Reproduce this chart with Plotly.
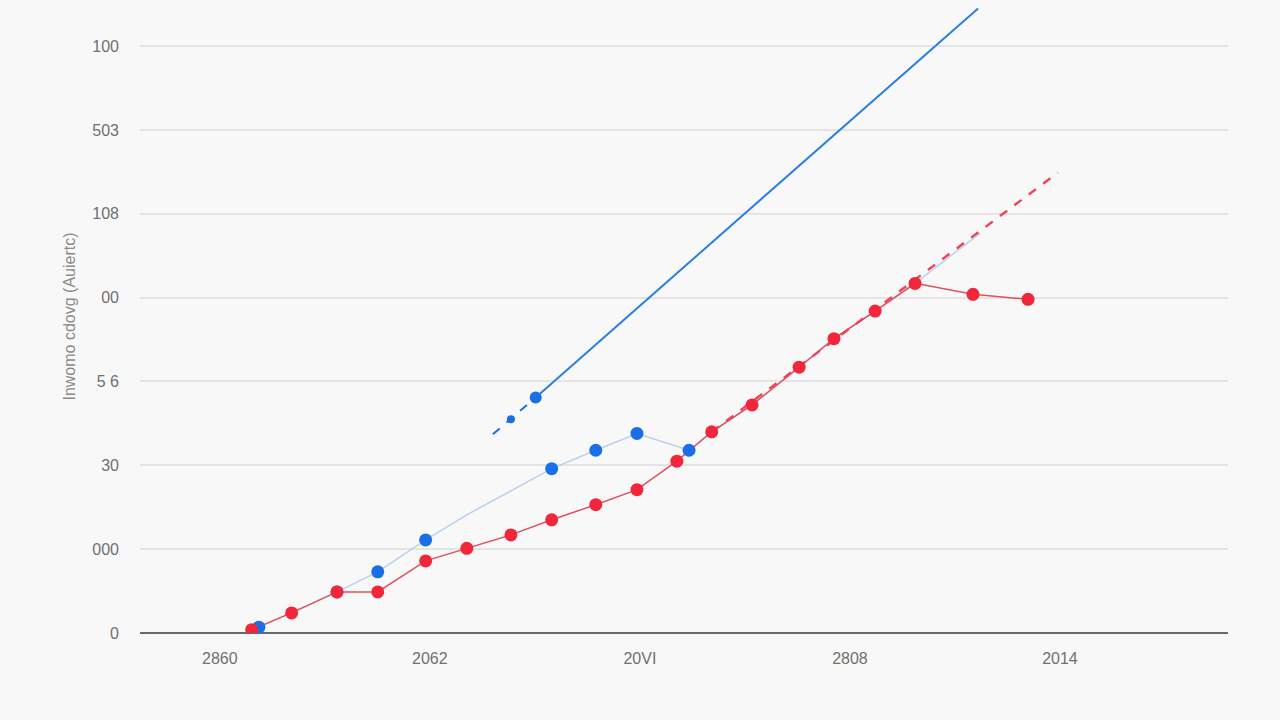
import plotly.graph_objects as go

# ---- data ----
x_tick_vals = [0, 5, 10, 15, 20]
x_tick_text = ["2860", "2062", "20VI", "2808", "2014"]
y_tick_vals = [0, 1, 2, 3, 4, 5, 6, 7]
y_tick_text = ["0", "000", "30", "5 6", "00", "108", "503", "100"]
y_title = "Inwomo cdovg (Auiertc)"

red_x = [0.76, 1.71, 2.79, 3.76, 4.90, 5.88, 6.93, 7.90, 8.95, 9.93, 10.88, 11.71,
         12.67, 13.79, 14.62, 15.60, 16.55, 17.93, 19.24]
red_y = [0.04, 0.24, 0.49, 0.49, 0.86, 1.01, 1.17, 1.35, 1.53, 1.71, 2.05, 2.40,
         2.72, 3.17, 3.51, 3.84, 4.17, 4.04, 3.98]

blue_x = [0.93, 2.79, 3.76, 4.90, 7.90, 8.95, 9.93, 11.17]
blue_y = [0.07, 0.49, 0.73, 1.11, 1.96, 2.18, 2.38, 2.18]

blue_path_x = [0.93, 2.79, 3.76, 4.90, 5.88, 7.90, 8.95, 9.93, 11.17, 11.71, 12.67,
               13.79, 14.62, 15.60, 16.55, 18.10]
blue_path_y = [0.07, 0.49, 0.73, 1.11, 1.41, 1.96, 2.18, 2.38, 2.18, 2.40, 2.72,
               3.17, 3.51, 3.84, 4.17, 4.77]

blue_trend_dash_x = [6.50, 7.52]
blue_trend_dash_y = [2.37, 2.81]
blue_trend_x = [7.52, 18.05]
blue_trend_y = [2.81, 7.45]
blue_trend_small_x = [6.93]
blue_trend_small_y = [2.55]
blue_trend_big_x = [7.52]
blue_trend_big_y = [2.81]

red_trend_x = [11.71, 19.95]
red_trend_y = [2.40, 5.49]

RED = "#f2263a"
BLUE = "#1a6fe8"

fig = go.Figure()

fig.add_trace(go.Scatter(x=blue_path_x, y=blue_path_y, mode="lines",
                         line=dict(color="#b9d0ee", width=1.5)))
fig.add_trace(go.Scatter(x=red_x, y=red_y, mode="lines",
                         line=dict(color="#e0505e", width=1.5)))
fig.add_trace(go.Scatter(x=red_trend_x, y=red_trend_y, mode="lines",
                         line=dict(color="#ee4458", width=2.4, dash="dash")))
fig.add_trace(go.Scatter(x=blue_trend_dash_x, y=blue_trend_dash_y, mode="lines",
                         line=dict(color=BLUE, width=2, dash="dash")))
fig.add_trace(go.Scatter(x=blue_trend_x, y=blue_trend_y, mode="lines",
                         line=dict(color="#2a7fe0", width=2)))
fig.add_trace(go.Scatter(x=blue_trend_small_x, y=blue_trend_small_y, mode="markers",
                         marker=dict(color=BLUE, size=8, opacity=1)))
fig.add_trace(go.Scatter(x=blue_trend_big_x, y=blue_trend_big_y, mode="markers",
                         marker=dict(color=BLUE, size=12, opacity=1)))
fig.add_trace(go.Scatter(x=blue_x, y=blue_y, mode="markers",
                         marker=dict(color=BLUE, size=13, opacity=1)))
fig.add_trace(go.Scatter(x=red_x, y=red_y, mode="markers",
                         marker=dict(color=RED, size=13, opacity=1)))

fig.update_layout(
    width=1280, height=720,
    paper_bgcolor="#f8f8f8", plot_bgcolor="#f8f8f8",
    margin=dict(l=140, r=52, t=0, b=87),
    showlegend=False, hovermode=False,
    font=dict(family="Liberation Sans, Arial, sans-serif", color="#777777", size=16),
)
fig.update_xaxes(range=[-1.9, 24.0], tickvals=x_tick_vals, ticktext=x_tick_text,
                 showgrid=False, zeroline=False, showline=False, ticks="",
                 ticklabelstandoff=14,
                 tickfont=dict(size=16, color="#707070"))
fig.update_yaxes(range=[0, 7.55], tickvals=y_tick_vals, ticktext=y_tick_text,
                 showgrid=True, gridcolor="#e4e4e4", gridwidth=1.5,
                 zeroline=True, zerolinecolor="#6a6a6a", zerolinewidth=2,
                 showline=False, ticks="", ticklabelstandoff=20,
                 tickfont=dict(size=16, color="#707070"),
                 title=dict(text=y_title, font=dict(size=16, color="#8a8a8a"), standoff=12))

fig.write_html("out.html", config={"displayModeBar": False},
               post_script="document.body.style.margin='0';document.body.style.background='#f8f8f8';")
